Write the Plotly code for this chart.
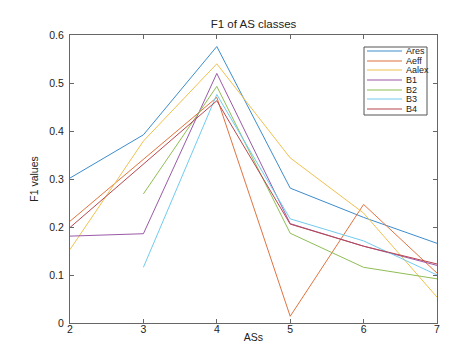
import plotly.graph_objects as go

x_vals = [2, 3, 4, 5, 6, 7]
ares  = [0.302, 0.392, 0.576, 0.281, 0.220, 0.166]
aeff  = [0.212, 0.340, 0.470, 0.014, 0.247, 0.104]
aalex = [0.153, 0.379, 0.540, 0.344, 0.229, 0.054]
b1    = [0.181, 0.186, 0.520, 0.207, 0.160, 0.120]
b2    = [None, 0.269, 0.493, 0.187, 0.116, 0.092]
b3    = [None, 0.116, 0.476, 0.217, 0.171, 0.100]
b4    = [0.199, 0.330, 0.463, 0.206, 0.160, 0.123]

names = ["Ares", "Aeff", "Aalex", "B1", "B2", "B3", "B4"]
series = [ares, aeff, aalex, b1, b2, b3, b4]
colors = ["#3d8ccc", "#e0733f", "#f0c050", "#9a59a8", "#8fbd55", "#71cbf0", "#b8474f"]

fig = go.Figure()
for n, s, c in zip(names, series, colors):
    fig.add_trace(go.Scatter(x=x_vals, y=s, name=n, mode="lines",
                             line=dict(color=c, width=1), connectgaps=False,
                             showlegend=False))

# plot-area geometry in pixels (for placing the custom legend in paper coords)
L, R, T, B = 62, 429, 27, 315
def px(xp):
    return (xp - L) / (R - L)
def py(yp):
    return (B - yp) / (B - T)

shapes = [dict(type="rect", xref="paper", yref="paper",
               x0=px(356), x1=px(419), y0=py(107), y1=py(39),
               line=dict(color="#555555", width=1), fillcolor="white", layer="above")]
annotations = []
rows = [43, 53, 62, 72, 82, 91, 101]
for yy, n, c in zip(rows, names, colors):
    shapes.append(dict(type="line", xref="paper", yref="paper",
                       x0=px(359), x1=px(394), y0=py(yy), y1=py(yy),
                       line=dict(color=c, width=1.2), layer="above"))
    annotations.append(dict(text=n, xref="paper", yref="paper", x=px(395.5), y=py(yy),
                            xanchor="left", yanchor="middle", showarrow=False,
                            font=dict(size=9, color="#222222")))

axis_common = dict(showline=True, mirror="ticks", linecolor="#666666", linewidth=1,
                   ticks="inside", ticklen=4, tickcolor="#666666", showgrid=False,
                   zeroline=False, tickfont=dict(size=10.5, color="#222222"))

fig.update_layout(
    width=474, height=355,
    margin=dict(l=62, r=45, t=27, b=40),
    paper_bgcolor="white", plot_bgcolor="white",
    font=dict(family="Liberation Sans, Arial, sans-serif", size=10, color="#222222"),
    title=dict(text="F1 of AS classes", x=0.518, xanchor="center", y=0.945, yanchor="bottom",
               font=dict(size=11.5, color="#222222")),
    xaxis=dict(range=[2, 7], tickvals=[2, 3, 4, 5, 6, 7], ticklabelstandoff=-4,
               title=dict(text="ASs", standoff=0, font=dict(size=10.5)), **axis_common),
    yaxis=dict(range=[0, 0.6], tickvals=[0, 0.1, 0.2, 0.3, 0.4, 0.5, 0.6],
               ticktext=["0", "0.1", "0.2", "0.3", "0.4", "0.5", "0.6"], ticklabelstandoff=3,
               title=dict(text="F1 values", standoff=8, font=dict(size=10.5)), **axis_common),
    shapes=shapes,
    annotations=annotations,
    showlegend=False,
)

fig.write_html("out.html")
